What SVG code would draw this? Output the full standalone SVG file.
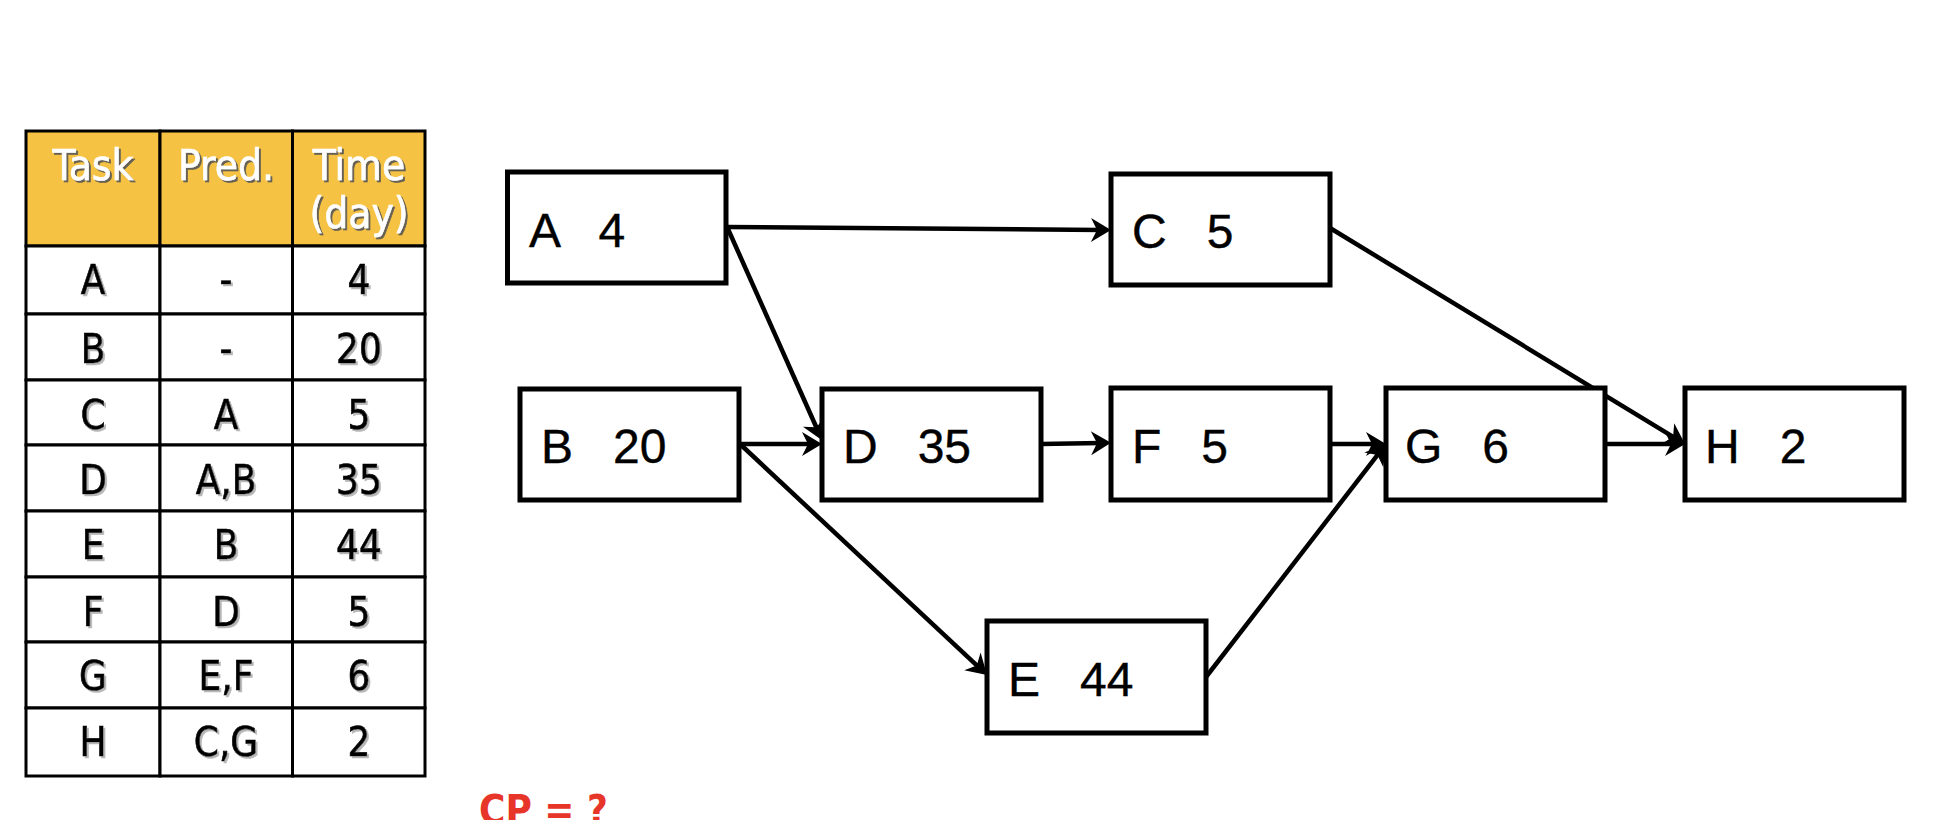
<svg xmlns="http://www.w3.org/2000/svg" width="1960" height="820" viewBox="0 0 1960 820">
<defs>
<style>
.cell{fill:#ffffff;stroke:#000;stroke-width:3}
.hcell{fill:#F5C243;stroke:#000;stroke-width:3}
.ht{font-family:"DejaVu Sans Condensed","DejaVu Sans",sans-serif;font-stretch:condensed;font-size:42px;fill:#fff;stroke:#fff;stroke-width:0.6;text-anchor:middle;filter:url(#hshadow)}
.bt{font-family:"DejaVu Sans Condensed","DejaVu Sans",sans-serif;font-stretch:condensed;font-size:40px;fill:#000;stroke:#000;stroke-width:0.6;text-anchor:middle;filter:url(#bshadow)}
.box{fill:#fff;stroke:#000;stroke-width:5}
.nt{font-family:"Liberation Sans",Arial,sans-serif;font-size:48px;fill:#000;stroke:#000;stroke-width:0.4}
.conn{stroke:#000;stroke-width:4.5;fill:none;marker-end:url(#arr)}
.cp{font-family:"DejaVu Sans Condensed","DejaVu Sans",sans-serif;font-stretch:condensed;font-weight:bold;font-size:40px;fill:#E8352A}
</style>
<filter id="hshadow" x="-20%" y="-20%" width="140%" height="140%">
<feDropShadow dx="2" dy="2" stdDeviation="0.6" flood-color="#555" flood-opacity="0.9"/>
</filter>
<filter id="bshadow" x="-20%" y="-20%" width="140%" height="140%">
<feDropShadow dx="2" dy="2" stdDeviation="0.6" flood-color="#999" flood-opacity="0.7"/>
</filter>
<marker id="arr" viewBox="-12 -15 26 30" refX="0" refY="0" markerWidth="26" markerHeight="30" markerUnits="userSpaceOnUse" orient="auto">
<path d="M10,0 L-10,-12 L-4,0 L-10,12 Z" fill="#000"/>
</marker>
</defs>
<rect width="1960" height="820" fill="#fff"/>
<g id="table">
<rect class="hcell" x="26" y="131" width="134" height="115"/>
<rect class="hcell" x="160" y="131" width="132.5" height="115"/>
<rect class="hcell" x="292.5" y="131" width="132.5" height="115"/>
<text class="ht" x="93" y="180">Task</text>
<text class="ht" x="226" y="180">Pred.</text>
<text class="ht" x="359" y="180">Time</text>
<text class="ht" x="359" y="228">(day)</text>
<g id="rows">
<rect class="cell" x="26" y="246" width="134" height="68"/><rect class="cell" x="160" y="246" width="132.5" height="68"/><rect class="cell" x="292.5" y="246" width="132.5" height="68"/>
<rect class="cell" x="26" y="314" width="134" height="66"/><rect class="cell" x="160" y="314" width="132.5" height="66"/><rect class="cell" x="292.5" y="314" width="132.5" height="66"/>
<rect class="cell" x="26" y="380" width="134" height="65"/><rect class="cell" x="160" y="380" width="132.5" height="65"/><rect class="cell" x="292.5" y="380" width="132.5" height="65"/>
<rect class="cell" x="26" y="445" width="134" height="66"/><rect class="cell" x="160" y="445" width="132.5" height="66"/><rect class="cell" x="292.5" y="445" width="132.5" height="66"/>
<rect class="cell" x="26" y="511" width="134" height="66"/><rect class="cell" x="160" y="511" width="132.5" height="66"/><rect class="cell" x="292.5" y="511" width="132.5" height="66"/>
<rect class="cell" x="26" y="577" width="134" height="65"/><rect class="cell" x="160" y="577" width="132.5" height="65"/><rect class="cell" x="292.5" y="577" width="132.5" height="65"/>
<rect class="cell" x="26" y="642" width="134" height="66"/><rect class="cell" x="160" y="642" width="132.5" height="66"/><rect class="cell" x="292.5" y="642" width="132.5" height="66"/>
<rect class="cell" x="26" y="708" width="134" height="68"/><rect class="cell" x="160" y="708" width="132.5" height="68"/><rect class="cell" x="292.5" y="708" width="132.5" height="68"/>
</g>
<text class="bt" x="93" y="294">A</text><text class="bt" x="226" y="294">-</text><text class="bt" x="359" y="294">4</text>
<text class="bt" x="93" y="363">B</text><text class="bt" x="226" y="363">-</text><text class="bt" x="359" y="363">20</text>
<text class="bt" x="93" y="429">C</text><text class="bt" x="226" y="429">A</text><text class="bt" x="359" y="429">5</text>
<text class="bt" x="93" y="494">D</text><text class="bt" x="226" y="494">A,B</text><text class="bt" x="359" y="494">35</text>
<text class="bt" x="93" y="559">E</text><text class="bt" x="226" y="559">B</text><text class="bt" x="359" y="559">44</text>
<text class="bt" x="93" y="626">F</text><text class="bt" x="226" y="626">D</text><text class="bt" x="359" y="626">5</text>
<text class="bt" x="93" y="690">G</text><text class="bt" x="226" y="690">E,F</text><text class="bt" x="359" y="690">6</text>
<text class="bt" x="93" y="756">H</text><text class="bt" x="226" y="756">C,G</text><text class="bt" x="359" y="756">2</text>
</g>
<g id="connectors">
<line class="conn" x1="726" y1="227" x2="1101" y2="230"/>
<line class="conn" x1="728" y1="229" x2="818" y2="431"/>
<line class="conn" x1="739" y1="444" x2="812" y2="444"/>
<line class="conn" x1="740" y1="444" x2="979.7" y2="668.2"/>
<line class="conn" x1="1041" y1="444" x2="1101" y2="443"/>
<line class="conn" x1="1330" y1="444" x2="1376" y2="444"/>
<line class="conn" x1="1206" y1="677" x2="1379.9" y2="451.9"/>
<line class="conn" x1="1605" y1="444" x2="1675" y2="444"/>
<line class="conn" x1="1330" y1="228" x2="1676.5" y2="438.8"/>
</g>
<g id="node-A"><rect class="box" x="507.5" y="172" width="218.5" height="111"/><text class="nt" x="529" y="247" xml:space="preserve">A   4</text></g>
<g id="node-C"><rect class="box" x="1111" y="174" width="219" height="111"/><text class="nt" x="1132" y="248" xml:space="preserve">C   5</text></g>
<g id="node-B"><rect class="box" x="520" y="389" width="219" height="111"/><text class="nt" x="541" y="463" xml:space="preserve">B   20</text></g>
<g id="node-D"><rect class="box" x="822" y="389" width="219" height="111"/><text class="nt" x="843" y="463" xml:space="preserve">D   35</text></g>
<g id="node-F"><rect class="box" x="1111" y="388" width="219" height="112"/><text class="nt" x="1132" y="463" xml:space="preserve">F   5</text></g>
<g id="node-G"><rect class="box" x="1386" y="388" width="219" height="112"/><text class="nt" x="1405" y="463" xml:space="preserve">G   6</text></g>
<g id="node-H"><rect class="box" x="1685" y="388" width="219" height="112"/><text class="nt" x="1705" y="463" xml:space="preserve">H   2</text></g>
<g id="node-E"><rect class="box" x="987" y="621" width="219" height="112"/><text class="nt" x="1008" y="696" xml:space="preserve">E   44</text></g>
<text class="cp" x="479" y="824">CP = ?</text>
</svg>
